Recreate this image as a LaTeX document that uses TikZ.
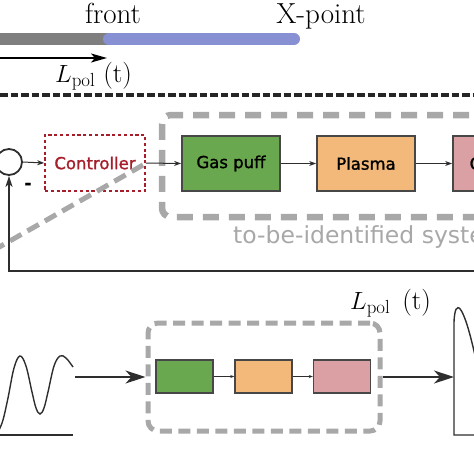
\documentclass[tikz,border=0pt]{standalone}
\usepackage{fontspec}
\newfontfamily\dejavu[FakeBold=1.3]{DejaVu Sans}
\newfontfamily\dejavulight{DejaVu Sans}
\usetikzlibrary{arrows.meta}
\definecolor{barGray}{HTML}{7F7F7F}
\definecolor{barBlue}{HTML}{8690D3}
\definecolor{dashGray}{HTML}{A8A8A8}
\definecolor{ctrlRed}{HTML}{A51E2A}
\definecolor{greenFill}{HTML}{6AA84F}
\definecolor{orangeFill}{HTML}{F2B97A}
\definecolor{pinkFill}{HTML}{DBA0A4}
\definecolor{boxLine}{HTML}{474747}
\definecolor{lineDark}{HTML}{2E2E2E}
\begin{document}
\begin{tikzpicture}[x=1pt,y=-1pt,
  serifbig/.style={font=\fontsize{29}{34}\selectfont},
  lpolfont/.style={font=\fontsize{27}{32}\selectfont},
  blockbox/.style={draw=boxLine, line width=1.8, minimum width=98, minimum height=55, inner sep=0,
     font=\dejavu\fontsize{16.5}{20}\selectfont, text=black},
  smallbox/.style={draw=boxLine, line width=1.4, minimum width=57, minimum height=33, inner sep=0},
  sysbox/.style={draw=dashGray, line width=6.5, dash pattern=on 16 off 10, rounded corners=9},
  sysboxsmall/.style={draw=dashGray, line width=5, dash pattern=on 12 off 6.5, rounded corners=10},
  conn/.style={-{Stealth[length=7,width=5]}, line width=1, lineDark},
  smallconn/.style={-{Stealth[length=4,width=3]}, line width=0.8, lineDark},
  bigconn/.style={-{Stealth[length=20,width=13,inset=6]}, line width=1.5, lineDark},
  sigline/.style={line width=1.4, lineDark}
]
\useasboundingbox (0,0) rectangle (474,474);
\clip (0,0) rectangle (474,474);

% ---------- top panel ----------
\node[serifbig, anchor=base] (front) at (113,23) {front};
\node[serifbig, anchor=base] (xpoint) at (321,23) {X-point};
\draw[line width=12, barGray] (-5,39) -- (110,39);
\draw[line width=12, barBlue, line cap=round] (109,39) -- (294,39);
\coordinate (lstart) at (-3,58);
\coordinate (lend) at (107,58);
\draw[-{Stealth[length=16,width=9,inset=4]}, line width=1.3, black] (lstart) -- (lend);
\node[lpolfont, anchor=base west, inner sep=0] (lpoltop) at (55,82) {$L_{\mathrm{pol}}$\hspace{8pt}(t)};
\coordinate (sepL) at (0,95);
\coordinate (sepR) at (474,95);
\draw[line width=3.2, black!85, dash pattern=on 7.5 off 3] (sepL) -- (sepR);

% ---------- middle panel ----------
\node[sysbox, minimum width=368, minimum height=102] (sys) at (346,166) {};
\node[anchor=base west, inner sep=0, text=dashGray, font=\dejavulight\fontsize{23.5}{28}\selectfont] (syslabel) at (233,243) {to-be-identified system};

\node[circle, draw=lineDark, line width=1.8, minimum size=26, inner sep=0] (sum) at (9,162) {};
\node[inner sep=0, font=\dejavu\bfseries\fontsize{17}{20}\selectfont] (minus) at (28,186) {-};
\node[draw=ctrlRed, line width=1.6, dash pattern=on 3.2 off 2.6, minimum width=100, minimum height=56, inner sep=0,
      text=ctrlRed, font=\dejavu\fontsize{16.5}{20}\selectfont] (ctrl) at (95,163) {Controller};
\node[blockbox, fill=greenFill] (gas) at (231,163.5) {Gas puff};
\node[blockbox, fill=orangeFill] (plasma) at (366,163.5) {Plasma};
\node[blockbox, fill=pinkFill] (cam) at (502,163.5) {Camera};

\coordinate (diagS) at (143,165);
\coordinate (diagE) at (-20,258);
\draw[dashGray, line width=5, dash pattern=on 13 off 7] (diagS) -- (diagE);

\draw[conn] (sum.east) -- (ctrl.west);
\draw[conn] (ctrl.east) -- (gas.west);
\draw[conn] (gas.east) -- (plasma.west);
\draw[conn] (plasma.east) -- (cam.west);

\coordinate (fbR) at (480,271);
\draw[-{Stealth[length=11,width=7,inset=3]}, line width=1.5, lineDark] (fbR) -| (sum.south);

% ---------- bottom panel ----------
\draw[sigline] plot[smooth, tension=0.6] coordinates {(-1,430) (3,420) (8,398) (14,368) (20,356) (26,366) (32,392) (36,408) (40,414) (44,408) (48,392) (54,366) (60,356) (66,358) (73,367)};
\coordinate (baseL) at (0,435);
\coordinate (baseR) at (73,435);
\draw[sigline] (baseL) -- (baseR);

\node[sysboxsmall, minimum width=232, minimum height=108] (bsys) at (264,377) {};
\node[smallbox, fill=greenFill] (bgas) at (184.5,376.5) {};
\node[smallbox, fill=orangeFill] (bplasma) at (263.5,376.5) {};
\node[smallbox, fill=pinkFill] (bcam) at (342,376.5) {};
\draw[smallconn] (bgas.east) -- (bplasma.west);
\draw[smallconn] (bplasma.east) -- (bcam.west);

\coordinate (inS) at (75,377);
\draw[bigconn] (inS) -- (bsys.west);
\coordinate (outE) at (454,377);
\draw[bigconn] (bsys.east) -- (outE);

\node[lpolfont, anchor=base west, inner sep=0] (lpolbot) at (350,309) {$L_{\mathrm{pol}}$\hspace{12pt}(t)};

\draw[sigline] (480,435) -- (454,435) -- (454,322) .. controls (455,298) and (463,300) .. (476,360);
\end{tikzpicture}
\end{document}
